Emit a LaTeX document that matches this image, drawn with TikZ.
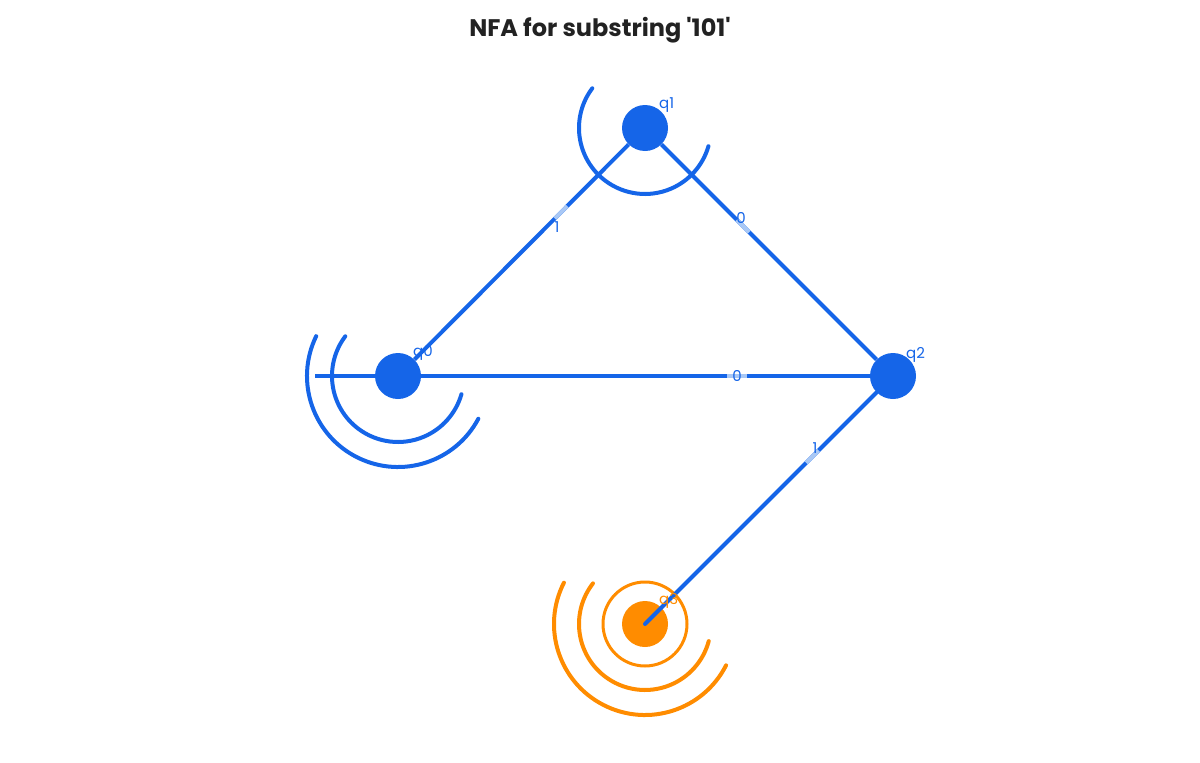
\documentclass[tikz,border=0pt]{standalone}
\usepackage{fontspec}
\setmainfont{Poppins}
\usetikzlibrary{calc}
\definecolor{bl}{HTML}{1565E8}
\definecolor{lb}{HTML}{A9C8F5}
\definecolor{og}{HTML}{FF8C00}
\definecolor{tt}{HTML}{222222}
\begin{document}
\begin{tikzpicture}[x=1pt,y=-1pt,
 st/.style={circle,fill=bl,minimum size=46pt,inner sep=0pt},
 edge/.style={bl,line width=4pt},
 arcb/.style={bl,line width=4pt,line cap=round},
 arco/.style={og,line width=4pt,line cap=round},
 lab/.style={font=\fontsize{15}{15}\selectfont,text=bl,inner sep=1pt},
 hl/.style={lb,line width=4pt}]
\useasboundingbox (0,0) rectangle (1200,763);
\node[font=\bfseries\fontsize{24}{24}\selectfont,text=tt] (title) at (600,30) {NFA for substring \textquotesingle 101\textquotesingle};
% arcs
\draw[arcb] (398,376) ++(-143:66) arc[start angle=-143,end angle=-344,radius=66];
\draw[arcb] (398,376) ++(-154:91) arc[start angle=-154,end angle=-332,radius=91];
\draw[arcb] (645,128) ++(-143:66) arc[start angle=-143,end angle=-344,radius=66];
\draw[arco] (645,624) ++(-142:66) arc[start angle=-142,end angle=-345,radius=66];
\draw[arco] (645,624) ++(-153:91) arc[start angle=-153,end angle=-333,radius=91];
\draw[og,line width=3pt] (645,624) circle[radius=42];
\node[st] (q0) at (398,376) {};
\node[st] (q1) at (645,128) {};
\node[st] (q2) at (893,376) {};
\node[st,fill=og] (q3) at (645,624) {};
\coordinate (s0) at (315,376);
\draw[edge] (s0) -- (q0);
\draw[edge] (q0) -- (q1);
\draw[edge] (q1) -- (q2);
\draw[edge] (q0) -- (q2);
\draw[edge,line cap=round] (q2.225) -- (q3.center);
% highlights
\draw[hl] ($(q0)!0.635!(q1)$) -- ($(q0)!0.685!(q1)$);
\draw[hl] ($(q1)!0.37!(q2)$) -- ($(q1)!0.42!(q2)$);
\draw[hl] (727,376) -- (747,376);
\draw[hl] ($(q2)!0.30!(q3)$) -- ($(q2)!0.35!(q3)$);
\node[lab] (l1) at (557,227) {1};
\node[lab] (l2) at (741,218) {0};
\node[lab] (l3) at (737,376) {0};
\node[lab] (l4) at (815,448) {1};
\node[lab,anchor=south west] (n0) at (412,362) {q0};
\node[lab,anchor=south west] (n1) at (658,114) {q1};
\node[lab,anchor=south west] (n2) at (905,364) {q2};
\node[lab,anchor=south west,text=og] (n3) at (658,610) {q3};
\end{tikzpicture}
\end{document}
